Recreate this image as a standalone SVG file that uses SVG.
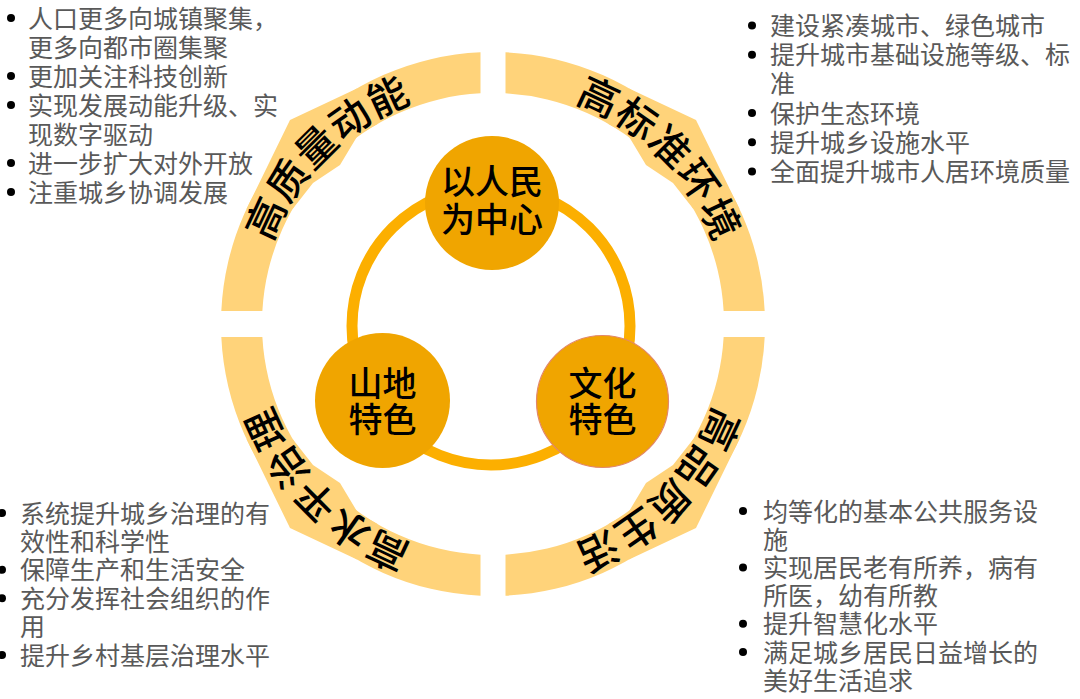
<svg xmlns="http://www.w3.org/2000/svg" xmlns:xlink="http://www.w3.org/1999/xlink" width="1080" height="699" viewBox="0 0 1080 699">
<style>
.seg{fill:#FFD37A;stroke:none}
.circ{fill:#F0A500}
.ctext{font-family:"Noto Sans CJK SC",sans-serif;font-size:34px;font-weight:500;fill:#000;text-anchor:middle}
.rtext{font-family:"Noto Sans CJK SC",sans-serif;font-size:40px;font-weight:500;fill:#000;letter-spacing:1.2px;text-anchor:middle}
.btext{font-family:"Noto Sans CJK SC",sans-serif;font-size:25px;fill:#595959}
.dot{fill:#000}
</style>
<defs>
<path id="arcTL" d="M257.2,324 A235.8,235.8 0 0 1 493,88.2"/>
<path id="arcTR" d="M493,88.2 A235.8,235.8 0 0 1 728.8,324"/>
<path id="arcBR" d="M728.8,324 A235.8,235.8 0 0 1 493,559.8"/>
<path id="arcBL" d="M493,559.8 A235.8,235.8 0 0 1 257.2,324"/>
</defs>
<rect width="1080" height="699" fill="#fff"/>

<g id="seg-tl">
<path class="seg" d="M221.31,311 A272,272 0 0 1 480.5,52.29 L480.5,93.34 A231,231 0 0 0 262.37,311 Z"/>
<polygon class="seg" points="246.5,209.1 290,120 357,88.4 377.5,124 358,135 340,165 313,183 293,208.5"/>
<text class="rtext"><textPath href="#arcTL" startOffset="185.8">高质量动能</textPath></text>
</g>
<g id="seg-tr">
<path class="seg" d="M505.5,52.29 A272,272 0 0 1 764.69,311 L723.63,311 A231,231 0 0 0 505.5,93.34 Z"/>
<polygon class="seg" points="739.5,209.1 696,120 629,88.4 608.5,124 628,135 646,165 673,183 693,208.5"/>
<text class="rtext"><textPath href="#arcTR" startOffset="185.8">高标准环境</textPath></text>
</g>
<g id="seg-br">
<path class="seg" d="M764.69,337 A272,272 0 0 1 505.5,595.71 L505.5,554.66 A231,231 0 0 0 723.63,337 Z"/>
<polygon class="seg" points="739.5,438.9 696,528 629,559.6 608.5,524 628,513 646,483 673,465 693,439.5"/>
<text class="rtext"><textPath href="#arcBR" startOffset="185.8">高品质生活</textPath></text>
</g>
<g id="seg-bl">
<path class="seg" d="M480.5,595.71 A272,272 0 0 1 221.31,337 L262.37,337 A231,231 0 0 0 480.5,554.66 Z"/>
<polygon class="seg" points="246.5,438.9 290,528 357,559.6 377.5,524 358,513 340,483 313,465 293,439.5"/>
<text class="rtext"><textPath href="#arcBL" startOffset="185.8">高水平治理</textPath></text>
</g>

<g id="connectors">
<circle cx="491" cy="326" r="139" fill="none" stroke="#FCAF00" stroke-width="11"/>
</g>

<g id="node-people">
<circle class="circ" cx="492" cy="203" r="67"/>
<text class="ctext"><tspan x="492" y="194">以人民</tspan><tspan x="492" y="232">为中心</tspan></text>
</g>
<g id="node-mountain">
<circle class="circ" cx="382.5" cy="400.5" r="67.5"/>
<text class="ctext"><tspan x="382.5" y="395.5">山地</tspan><tspan x="382.5" y="432">特色</tspan></text>
</g>
<g id="node-culture">
<circle class="circ" cx="602.5" cy="401.5" r="66" stroke="#E2876A" stroke-width="1.2"/>
<text class="ctext"><tspan x="602.5" y="395.5">文化</tspan><tspan x="602.5" y="432">特色</tspan></text>
</g>

<g id="list-tl">
<circle class="dot" cx="11" cy="18" r="4"/>
<circle class="dot" cx="11" cy="76" r="4"/>
<circle class="dot" cx="11" cy="105" r="4"/>
<circle class="dot" cx="11" cy="163" r="4"/>
<circle class="dot" cx="11" cy="192" r="4"/>
<text class="btext"><tspan x="28" y="27.5">人口更多向城镇聚集，</tspan><tspan x="28" y="56.5">更多向都市圈集聚</tspan><tspan x="28" y="85.5">更加关注科技创新</tspan><tspan x="28" y="114.5">实现发展动能升级、实</tspan><tspan x="28" y="143.5">现数字驱动</tspan><tspan x="28" y="172.5">进一步扩大对外开放</tspan><tspan x="28" y="201.5">注重城乡协调发展</tspan></text>
</g>

<g id="list-tr">
<circle class="dot" cx="752" cy="25.5" r="4"/>
<circle class="dot" cx="752" cy="54.7" r="4"/>
<circle class="dot" cx="752" cy="113.1" r="4"/>
<circle class="dot" cx="752" cy="142.3" r="4"/>
<circle class="dot" cx="752" cy="171.5" r="4"/>
<text class="btext"><tspan x="770" y="35">建设紧凑城市、绿色城市</tspan><tspan x="770" y="64.2">提升城市基础设施等级、标</tspan><tspan x="770" y="93.4">准</tspan><tspan x="770" y="122.6">保护生态环境</tspan><tspan x="770" y="151.8">提升城乡设施水平</tspan><tspan x="770" y="181">全面提升城市人居环境质量</tspan></text>
</g>

<g id="list-bl">
<circle class="dot" cx="2" cy="513" r="4"/>
<circle class="dot" cx="2" cy="569.8" r="4"/>
<circle class="dot" cx="2" cy="598.2" r="4"/>
<circle class="dot" cx="2" cy="655" r="4"/>
<text class="btext"><tspan x="20" y="522.5">系统提升城乡治理的有</tspan><tspan x="20" y="550.9">效性和科学性</tspan><tspan x="20" y="579.3">保障生产和生活安全</tspan><tspan x="20" y="607.7">充分发挥社会组织的作</tspan><tspan x="20" y="636.1">用</tspan><tspan x="20" y="664.5">提升乡村基层治理水平</tspan></text>
</g>

<g id="list-br">
<circle class="dot" cx="743" cy="511" r="4"/>
<circle class="dot" cx="743" cy="567.4" r="4"/>
<circle class="dot" cx="743" cy="623.8" r="4"/>
<circle class="dot" cx="743" cy="652" r="4"/>
<text class="btext"><tspan x="763" y="520.5">均等化的基本公共服务设</tspan><tspan x="763" y="548.7">施</tspan><tspan x="763" y="576.9">实现居民老有所养，病有</tspan><tspan x="763" y="605.1">所医，幼有所教</tspan><tspan x="763" y="633.3">提升智慧化水平</tspan><tspan x="763" y="661.5">满足城乡居民日益增长的</tspan><tspan x="763" y="689.7">美好生活追求</tspan></text>
</g>
</svg>
